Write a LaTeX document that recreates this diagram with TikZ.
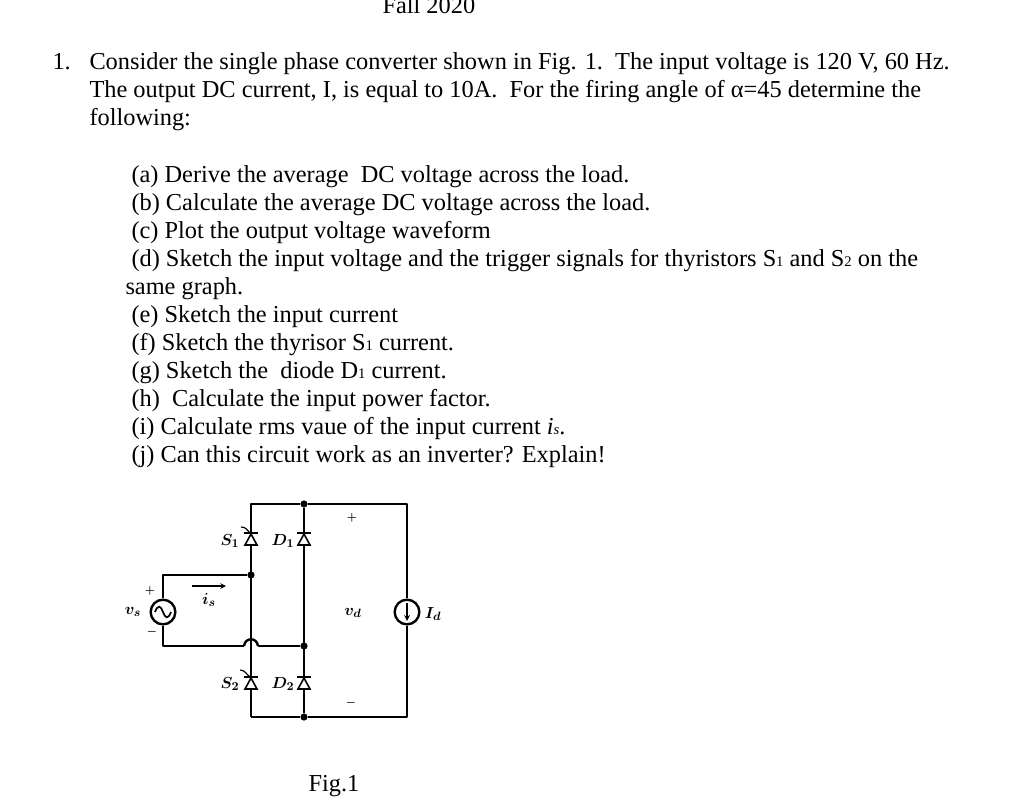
\documentclass[tikz,border=0pt]{standalone}
\usepackage{fontspec}
\setmainfont{Liberation Serif}
\newcommand{\subdig}[1]{{\fontsize{11}{12}\selectfont #1}}
\tikzset{every picture/.style={line width=0.75pt}}
\tikzset{
  txt/.style={anchor=base west,inner sep=0pt,font=\fontsize{18.27}{20}\selectfont},
  lab/.style={inner sep=0pt,font=\fontsize{13}{14}\selectfont\boldmath},
  sgn/.style={inner sep=0pt,font=\fontsize{8}{9}\selectfont\boldmath},
  wire/.style={line width=1.8pt,line join=round},
  junc/.style={circle,fill=black,inner sep=0pt,minimum size=5.4pt},
  src/.style={circle,draw,line width=1.8pt,fill=white,inner sep=0pt,minimum size=18.5pt},
}

\begin{document}
\begin{tikzpicture}[x=0.75pt,y=0.75pt,yscale=-1,xscale=1]
\useasboundingbox (0,0) rectangle (1024,800);

%Junctions and corners
\node (jtop) [junc] at (304,504) {};
\node (jmid) [junc] at (251,575) {};
\node (jlow) [junc] at (304,646) {};
\node (jbot) [junc] at (304,717) {};
\coordinate (ctl) at (251,504);
\coordinate (ctr) at (407,504);
\coordinate (cbl) at (251,717);
\coordinate (cbr) at (407,717);
\coordinate (cvt) at (163,575);
\coordinate (cvb) at (163,646);
\coordinate (hl) at (244,646);
\coordinate (hr) at (258,646);
\coordinate (s1) at (251,539);
\coordinate (d1) at (304,539);
\coordinate (s2) at (251,683);
\coordinate (d2) at (304,683);
\coordinate (arra) at (192,586);
\coordinate (arrb) at (226,586);
\node (vsrc) [src] at (163,612) {};
\node (isrc) [src] at (407,612) {};

%Straight Lines
\draw [wire] (cbl) -- (ctl) -- (jtop) -- (ctr) -- (isrc);
\draw [wire] (isrc) -- (cbr) -- (jbot) -- (cbl);
\draw [wire] (jtop) -- (jbot);
\draw [wire] (vsrc) -- (cvt) -- (jmid);
\draw [wire] (vsrc) -- (cvb) -- (hl);
\draw [wire] (hr) -- (jlow);
%Curve Lines
\draw [wire] (hl) .. controls (245,637) and (257,637) .. (hr);
\draw [line width=0.9pt,-stealth] (arra) -- (arrb);

%Thyristors and diodes
\foreach \dev in {s1,d1,s2,d2}{
  \draw [line width=1.2pt,fill=white] ([shift={(-6,6)}]\dev) -- ([shift={(6,6)}]\dev) -- ([shift={(0,-5)}]\dev) -- cycle;
  \draw [line width=1.5pt] ([shift={(-7,-6)}]\dev) -- ([shift={(7,-6)}]\dev);
}
\draw [line width=0.9pt] (241,527) .. controls (246,527) and (247,530) .. (250,533);
\draw [line width=0.9pt] (240,670) .. controls (245,670) and (246,674) .. (250,677);

%Source symbols
\draw [line width=1.3pt] (155,612) .. controls (158,604) and (161,606) .. (163,612) .. controls (165,618) and (168,620) .. (171,612);
\draw [line width=1pt,-stealth] (407,603) -- (407,621);

% Text Node
\node (vs) [lab] at (133,612) {$v_s$};
\node (vsp) [sgn] at (150,591) {$+$};
\node (vsm) [sgn] at (152,632) {$-$};
\node (is) [lab] at (209,600) {$i_s$};
\node (ls1) [lab] at (230,541) {$S_1$};
\node (ld1) [lab] at (283,541) {$D_1$};
\node (ls2) [lab] at (230,684) {$S_2$};
\node (ld2) [lab] at (283,684) {$D_2$};
\node (vdp) [sgn] at (352,518) {$+$};
\node (vdm) [sgn] at (351,703) {$-$};
\node (vd) [lab] at (353,613) {$v_d$};
\node (id) [lab] at (433,614) {$I_d$};

% Text Node
\draw (382,13) node (head) [txt] {Fall 2020};
\draw (52,69) node (qnum) [txt] {1.};
\draw (89,69) node (qa) [txt] {Consider the single phase converter shown in Fig. 1.\ \ The input voltage is 120 V, 60 Hz.};
\draw (89,97) node (qb) [txt] {The output DC current, I, is equal to 10A.\ \ For the firing angle of α=45 determine the};
\draw (89,125) node (qc) [txt] {following:};
\draw (131,182) node (pa) [txt] {(a) Derive the average\ \ DC voltage across the load.};
\draw (131,210) node (pb) [txt] {(b) Calculate the average DC voltage across the load.};
\draw (131,238) node (pc) [txt] {(c) Plot the output voltage waveform};
\draw (131,266) node (pd) [txt] {(d) Sketch the input voltage and the trigger signals for thyristors S\subdig{1} and S\subdig{2} on the};
\draw (125,294) node (pdb) [txt] {same graph.};
\draw (131,322) node (pe) [txt] {(e) Sketch the input current};
\draw (131,350) node (pf) [txt] {(f) Sketch the thyrisor S\subdig{1} current.};
\draw (131,378) node (pg) [txt] {(g) Sketch the\ \ diode D\subdig{1} current.};
\draw (131,406) node (ph) [txt] {(h)\ \ Calculate the input power factor.};
\draw (131,434) node (pi) [txt] {(i) Calculate rms vaue of the input current \textit{i}\subdig{\textit{s}}.};
\draw (131,462) node (pj) [txt] {(j) Can this circuit work as an inverter? Explain!};
\draw (308,791) node (fig) [txt] {Fig.1};

\end{tikzpicture}
\end{document}
